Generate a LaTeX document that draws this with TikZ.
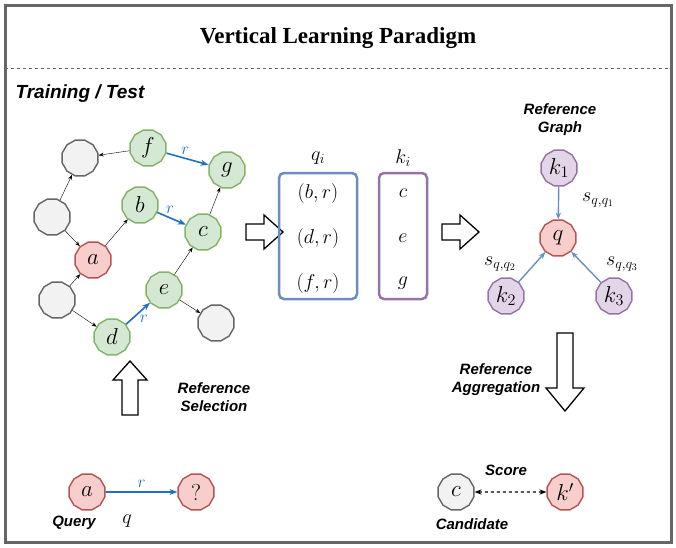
\RequirePackage{fix-cm}
\documentclass[tikz,border=0pt]{standalone}
\usepackage{fontspec}
\setmainfont{Latin Modern Roman}
\newfontfamily\sansf{Liberation Sans}
\newfontfamily\titf{Liberation Serif}
\usetikzlibrary{shapes.geometric,arrows.meta}
\definecolor{rf}{HTML}{F8CECC}\definecolor{rb}{HTML}{B85450}
\definecolor{gf}{HTML}{D5E8D4}\definecolor{gb}{HTML}{82B366}
\definecolor{nf}{HTML}{F2F2F2}\definecolor{nb}{HTML}{666666}
\definecolor{pf}{HTML}{E1D5E7}\definecolor{pb}{HTML}{9673A6}
\definecolor{bl}{HTML}{1F6FC5}\definecolor{lb}{HTML}{6C8EBF}
\tikzset{
 nd/.style={regular polygon,regular polygon sides=12,minimum size=37pt,inner sep=0pt,line width=1.4pt,font=\fontsize{23}{23}\selectfont},
 red/.style={nd,fill=rf,draw=rb}, grn/.style={nd,fill=gf,draw=gb},
 gry/.style={nd,fill=nf,draw=nb}, pur/.style={nd,fill=pf,draw=pb},
 e/.style={-{Stealth[length=5pt]},thin},
 be/.style={-{Stealth[length=8pt,width=6pt]},draw=bl,line width=1.6pt},
 le/.style={-{Stealth[length=7pt]},draw=lb,line width=1.4pt},
 rl/.style={text=bl,font=\fontsize{17}{17}\selectfont},
 lab/.style={font=\sansf\bfseries\itshape\fontsize{15}{18}\selectfont,align=center},
 ha/.style={draw=black,line width=1.3pt,fill=white,line join=miter},
 bx/.style={rounded corners=5pt,line width=2.5pt,minimum height=126pt},
 tx/.style={font=\fontsize{20}{20}\selectfont}
}
\begin{document}
\begin{tikzpicture}[x=1pt,y=-1pt]
\useasboundingbox (0,0) rectangle (676,547);
\draw[line width=3pt,draw=nb] (5,5) rectangle (671,542);
\node[font=\titf\bfseries\fontsize{23}{23}\selectfont] (title) at (338,38) {Vertical Learning Paradigm};
\coordinate (dl) at (5,68); \coordinate (dr) at (671,68);
\draw[dashed,draw=nb,line width=1pt] (dl) -- (dr);
\node[font=\sansf\bfseries\itshape\fontsize{19}{19}\selectfont,anchor=west] (tt) at (12,94) {Training / Test};
% graph
\node[grn] (f) at (148,148) {$f$};
\node[gry] (n1) at (80,158) {};
\node[grn] (g) at (227,170) {$g$};
\node[grn] (b) at (140,205) {$b$};
\node[gry] (n2) at (52,217) {};
\node[grn] (c) at (203,232) {$c$};
\node[red] (a) at (93,260) {$a$};
\node[grn] (ee) at (164,290) {$e$};
\node[gry] (n3) at (57,300) {};
\node[grn] (d) at (112,337) {$d$};
\node[gry] (n4) at (216,323) {};
\draw[e] (f) -- (n1); \draw[e] (n2) -- (n1); \draw[e] (n2) -- (a);
\draw[e] (n3) -- (a); \draw[e] (n3) -- (d); \draw[e] (a) -- (b);
\draw[e] (ee) -- (c); \draw[e] (c) -- (g); \draw[e] (ee) -- (n4);
\draw[be] (f) -- node[rl,above,pos=0.45] {$r$} (g);
\draw[be] (b) -- node[rl,above,pos=0.45] {$r$} (c);
\draw[be] (d) -- node[rl,below right,pos=0.5,inner sep=1pt] {$r$} (ee);
% hollow arrows
\draw[ha] (246,224) -- (264,224) -- (264,215) -- (283,232) -- (264,249) -- (264,240) -- (246,240) -- cycle;
\draw[ha] (442,224) -- (460,224) -- (460,215) -- (479,232) -- (460,249) -- (460,240) -- (442,240) -- cycle;
\draw[ha] (122,415) -- (122,380) -- (113,380) -- (130,361) -- (147,380) -- (138,380) -- (138,415) -- cycle;
\draw[ha] (557,333) -- (573,333) -- (573,388) -- (584,388) -- (565,411) -- (546,388) -- (557,388) -- cycle;
% boxes
\node[tx] (qi) at (318,158) {$q_i$};
\node[tx] (ki) at (403,158) {$k_i$};
\node[bx,draw=lb,minimum width=78pt] (qb) at (318,236) {};
\node[bx,draw=pb,minimum width=48pt] (kb) at (403,236) {};
\node[tx] (q1) at (318,193) {$(b,r)$};
\node[tx] (q2) at (318,238) {$(d,r)$};
\node[tx] (q3) at (318,283) {$(f,r)$};
\node[tx] (k1t) at (403,193) {$c$};
\node[tx] (k2t) at (403,238) {$e$};
\node[tx] (k3t) at (403,283) {$g$};
% reference graph
\node[lab] (rg) at (560,120) {Reference\\Graph};
\node[pur] (k1) at (559,168) {$k_1$};
\node[red] (q) at (558,238) {$q$};
\node[pur] (k2) at (506,296) {$k_2$};
\node[pur] (k3) at (614,296) {$k_3$};
\draw[le] (k1) -- (q); \draw[le] (k2) -- (q); \draw[le] (k3) -- (q);
\node[tx] (s1) at (598,200) {$s_{q,q_1}$};
\node[tx] (s2) at (500,264) {$s_{q,q_2}$};
\node[tx] (s3) at (622,264) {$s_{q,q_3}$};
\node[lab] (ra) at (496,380) {Reference\\Aggregation};
\node[lab] (rs) at (214,397) {Reference\\Selection};
% bottom
\node[gry] (cc) at (456,492) {$c$};
\node[red] (kp) at (565,492) {$k'$};
\draw[{Stealth[length=7pt]}-{Stealth[length=7pt]},dashed,line width=1.2pt] (cc) -- (kp);
\node[lab] (sc) at (506,470) {Score};
\node[lab] (cd) at (472,524) {Candidate};
\node[red] (qa) at (87,492) {$a$};
\node[red] (qq) at (196,492) {$?$};
\draw[be] (qa) -- node[rl,above] {$r$} (qq);
\node[lab] (qy) at (74,523) {Query};
\node[tx] (qv) at (127,521) {$q$};
\end{tikzpicture}
\end{document}
